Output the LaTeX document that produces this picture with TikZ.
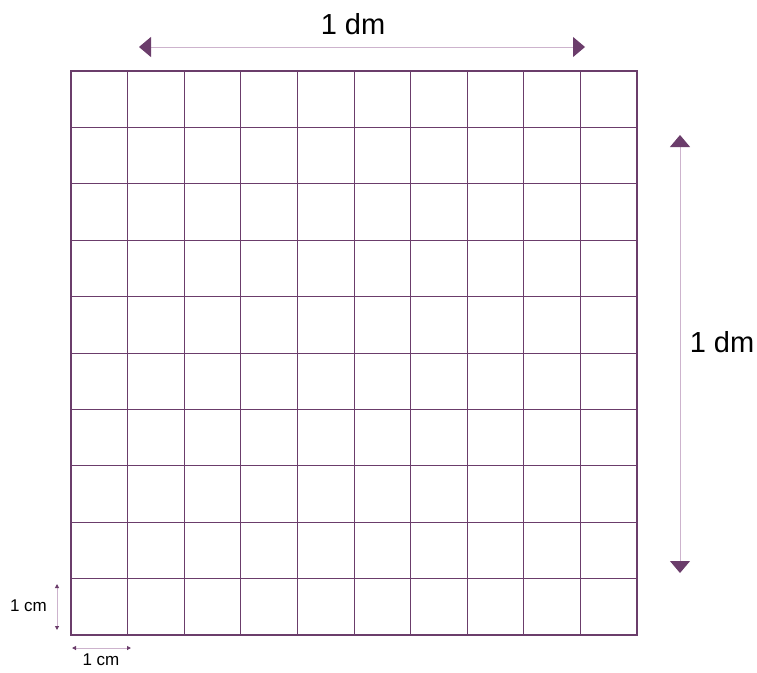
\documentclass[tikz,border=0pt]{standalone}
\usepackage{fontspec}
\setmainfont{Liberation Sans}
\usepackage{tikz}
\usetikzlibrary{positioning}
\usetikzlibrary{arrows.meta}
\definecolor{gridpurple}{HTML}{6B3D6B}
\definecolor{arrowlight}{HTML}{CDB3CD}
\tikzset{
  grid_outer/.style={line width = 2pt, color = gridpurple},
  grid_inner/.style={line width = 1pt, color = gridpurple},
  arrow_big/.style={{Triangle[length=12pt, width=20pt, color=gridpurple]}-{Triangle[length=12pt, width=20pt, color=gridpurple]}, line width = 1pt, color = arrowlight},
  arrow_small/.style={{Triangle[length=4pt, width=4pt, color=gridpurple]}-{Triangle[length=4pt, width=4pt, color=gridpurple]}, line width = 1pt, color = arrowlight},
  label_big/.style={draw = none, inner sep = 0, font = \fontsize{29}{29}\selectfont},
  label_small/.style={draw = none, inner sep = 0, font = \fontsize{17}{17}\selectfont}}

\begin{document}
\begin{tikzpicture}[x = 1pt, y = -1pt]

\useasboundingbox (0,0) rectangle (757,672);

%%% vertical grid lines
\draw[grid_inner] (127.6,71) -- (127.6,635);
\draw[grid_inner] (184.2,71) -- (184.2,635);
\draw[grid_inner] (240.8,71) -- (240.8,635);
\draw[grid_inner] (297.4,71) -- (297.4,635);
\draw[grid_inner] (354.0,71) -- (354.0,635);
\draw[grid_inner] (410.6,71) -- (410.6,635);
\draw[grid_inner] (467.2,71) -- (467.2,635);
\draw[grid_inner] (523.8,71) -- (523.8,635);
\draw[grid_inner] (580.4,71) -- (580.4,635);

%%% horizontal grid lines
\draw[grid_inner] (71,127.4) -- (637,127.4);
\draw[grid_inner] (71,183.8) -- (637,183.8);
\draw[grid_inner] (71,240.2) -- (637,240.2);
\draw[grid_inner] (71,296.6) -- (637,296.6);
\draw[grid_inner] (71,353.0) -- (637,353.0);
\draw[grid_inner] (71,409.4) -- (637,409.4);
\draw[grid_inner] (71,465.8) -- (637,465.8);
\draw[grid_inner] (71,522.2) -- (637,522.2);
\draw[grid_inner] (71,578.6) -- (637,578.6);

% outer square
\draw[grid_outer] (71,71) rectangle (637,635);

%%% arrow end points
\coordinate (top_left) at (139,47);
\coordinate (top_right) at (585,47);
\coordinate (right_top) at (680,135);
\coordinate (right_bottom) at (680,573);
\coordinate (cm_top) at (57,584);
\coordinate (cm_bottom) at (57,630);
\coordinate (cm_left) at (72,648);
\coordinate (cm_right) at (131,648);

\draw[arrow_big] (top_left) -- (top_right);
\draw[arrow_big] (right_top) -- (right_bottom);
\draw[arrow_small] (cm_top) -- (cm_bottom);
\draw[arrow_small] (cm_left) -- (cm_right);

%%% labels
\node[label_big] at (353,24) (dm_top) {1 dm};
\node[label_big] at (722,342) (dm_right) {1 dm};
\node[label_small] at (28.5,606) (cm_side) {1 cm};
\node[label_small] at (101,660) (cm_below) {1 cm};

\end{tikzpicture}
\end{document}
